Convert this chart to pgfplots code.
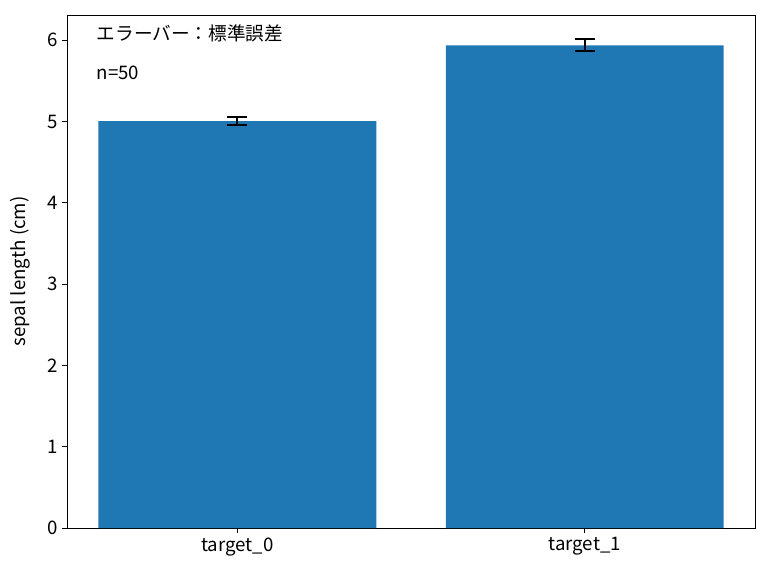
\documentclass[border=0pt]{standalone}
\usepackage{pgfplots}
\pgfplotsset{compat=1.18}
\usepackage{fontspec}
\setmainfont{Noto Sans CJK JP}
\definecolor{mplblue}{HTML}{1F77B4}
\begin{document}
\begin{tikzpicture}[x=0.75pt,y=0.75pt]
\useasboundingbox (-67,-47) rectangle (701,528);
\begin{axis}[
  at={(0,0)}, anchor=south west,
  scale only axis,
  width=516pt, height=384.75pt,
  xmin=-0.49, xmax=1.49,
  ymin=0, ymax=6.31,
  xtick={0,1}, xticklabels={target\_0, target\_1},
  ytick={0,1,2,3,4,5,6},
  tick align=outside,
  tick pos=left,
  major tick length=3.6pt,
  tick style={black, line width=0.6pt},
  axis line style={black, line width=0.6pt},
  /pgf/number format/assume math mode=true,
  tick label style={font=\fontsize{14}{16}\selectfont},
  ylabel={sepal length (cm)},
  every axis y label/.style={at={(axis description cs:0,0.5)}, rotate=90, anchor=center, yshift=35.25pt, font=\fontsize{14}{16}\selectfont},
  clip=false,
]
\addplot[ybar, bar width=0.8, fill=mplblue, draw=none, bar shift=0pt,
  error bars/.cd, y dir=both, y explicit,
  error bar style={black, line width=1.5pt},
  error mark options={black, line width=1.5pt, mark size=7.5pt, rotate=90}]
  coordinates {(0,5.006) +- (0,0.0498) (1,5.936) +- (0,0.0730)};
\node[anchor=west, inner sep=0pt, font=\fontsize{14}{16}\selectfont] at (axis cs:-0.405,6.09) {エラーバー：標準誤差};
\node[anchor=west, inner sep=0pt, font=\fontsize{14}{16}\selectfont] at (axis cs:-0.405,5.6) {n=50};
\end{axis}
\end{tikzpicture}
\end{document}
